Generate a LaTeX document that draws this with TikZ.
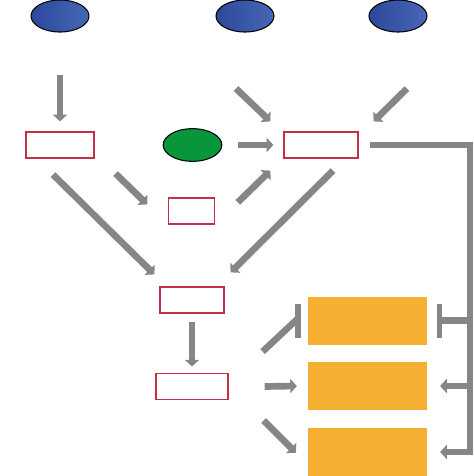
\documentclass[tikz,border=0pt]{standalone}
\usepackage{tikz}
\usetikzlibrary{positioning}
\usetikzlibrary{shapes.geometric}
\usetikzlibrary{arrows.meta}
\usepackage{xcolor}

\definecolor{arrgray}{RGB}{134,134,134}
\definecolor{boxred}{RGB}{196,48,74}
\definecolor{sigblueL}{RGB}{44,72,154}
\definecolor{sigblueR}{RGB}{70,104,182}
\definecolor{ligreen}{RGB}{8,150,58}
\definecolor{geneorange}{RGB}{245,176,50}

\tikzset{
  signal/.style={ellipse, draw=black, line width=0.8pt, left color=sigblueL, right color=sigblueR, minimum width=43.5pt, minimum height=24pt, inner sep=0pt},
  ligand/.style={ellipse, draw=black, line width=0.8pt, fill=ligreen, minimum width=44pt, minimum height=24.5pt, inner sep=0pt},
  redbox/.style={rectangle, draw=boxred, line width=0.9pt, fill=white, minimum height=19.5pt, inner sep=0pt},
  genebox/.style={rectangle, fill=geneorange, minimum width=89pt, minimum height=36pt, inner sep=0pt},
  arr/.style={draw=arrgray, line width=5pt, -{Triangle[width=10.5pt,length=5pt]}, line join=miter},
  inhib/.style={draw=arrgray, line width=5pt, line join=miter},
  inhibbar/.style={draw=arrgray, line width=4pt}
}

\begin{document}
\begin{tikzpicture}[x=0.75pt, y=-0.75pt]

\useasboundingbox (0,0) rectangle (474,476);

\begin{scope}
{
% signals on top
\node[signal] (sigA) at (60,16) {};
\node[signal] (sigB) at (245,16) {};
\node[signal] (sigC) at (398,16) {};

% middle boxes
\node[redbox, minimum width=51pt] (recA) at (60,145) {};
\node[ligand] (lig) at (192.5,145) {};
\node[redbox, minimum width=55.5pt] (recB) at (321,145) {};
\node[redbox, minimum width=34pt] (adapt) at (191.5,211) {};
\node[redbox, minimum width=48pt] (kinA) at (192,300) {};
\node[redbox, minimum width=54pt, minimum height=20pt] (kinB) at (192,386.5) {};

% target genes
\node[genebox] (geneA) at (367.5,320.5) {};
\node[genebox] (geneB) at (367.5,386) {};
\node[genebox] (geneC) at (367.5,452) {};
}
\end{scope}

\begin{scope}
{
% arrows
\draw[arr] ([shift={(0,42)}]sigA.south) -- ([shift={(0,-10)}]recA.north);
\draw[arr] ([shift={(-9,56)}]sigB.south) -- ([shift={(-13,-10)}]recB.north west);
\draw[arr] ([shift={(9,56)}]sigC.south) -- ([shift={(15,-10)}]recB.north east);
\draw[arr] ([shift={(16,0)}]lig.east) -- ([shift={(-10,0)}]recB.west);

\draw[arr] ([shift={(21,15)}]recA.south east) -- ([shift={(-21,7)}]adapt.north west);
\draw[arr] ([shift={(23,5)}]adapt.north east) -- ([shift={(-13,12)}]recB.south west);
\draw[arr] ([shift={(-7,16)}]recA.south) -- ([shift={(-5,-12)}]kinA.north west);
\draw[arr] ([shift={(12,12)}]recB.south) -- ([shift={(6,-14)}]kinA.north east);
\draw[arr] ([shift={(0,8)}]kinA.south) -- ([shift={(0,-6)}]kinB.north);

% from kinB to the genes
\coordinate (barA) at ([shift={(-10,0)}]geneA.west);
\draw[inhib] ([shift={(34,-21)}]kinB.north east) -- ([shift={(0,-2)}]barA);
\draw[inhibbar] ([shift={(0,-17)}]barA) -- ([shift={(0,17)}]barA);
\draw[arr] ([shift={(36,0)}]kinB.east) -- ([shift={(-11,0)}]geneB.west);
\draw[arr] ([shift={(35,20)}]kinB.south east) -- ([shift={(-12,25)}]geneC.north west);

% right rail from recB
\coordinate (rail) at (470,145);
\draw[arr] ([shift={(11,0)}]recB.east) -- (rail) |- ([shift={(13,0)}]geneC.east);
\draw[inhib, -{Bar[width=25.5pt,line width=4pt]}] (rail |- geneA.east) -- ([shift={(10,0)}]geneA.east);
\draw[arr] (rail |- geneB.east) -- ([shift={(13,0)}]geneB.east);
}
\end{scope}

\end{tikzpicture}
\end{document}
